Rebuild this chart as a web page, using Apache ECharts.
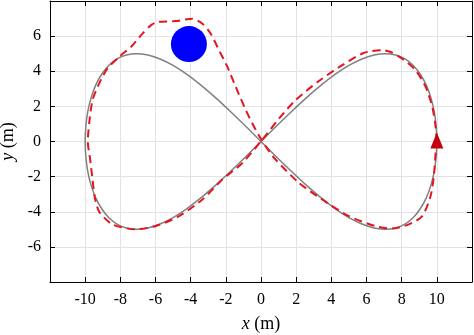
<!DOCTYPE html>
<html>
<head>
<meta charset="utf-8">
<script src="https://cdn.jsdelivr.net/npm/echarts@6/dist/echarts.min.js"></script>
<style>
html,body{margin:0;padding:0;background:#fff;}
#c{width:474px;height:335px;}
</style>
</head>
<body>
<div id="c"></div>
<script>
// Reference path (gray figure-eight)
var referencePath = [
  [10,0],[9.96,0.87],[9.85,1.71],[9.66,2.5],[9.40,3.21],[9.06,3.83],[8.66,4.33],[8.19,4.70],[7.66,4.92],[7.07,5],
  [6.43,4.92],[5.74,4.70],[5.00,4.33],[4.23,3.83],[3.42,3.21],[2.59,2.5],[1.74,1.71],[0.87,0.87],[0,0],
  [-0.87,-0.87],[-1.74,-1.71],[-2.59,-2.5],[-3.42,-3.21],[-4.23,-3.83],[-5,-4.33],[-5.74,-4.70],[-6.43,-4.92],[-7.07,-5],
  [-7.66,-4.92],[-8.19,-4.70],[-8.66,-4.33],[-9.06,-3.83],[-9.40,-3.21],[-9.66,-2.5],[-9.85,-1.71],[-9.96,-0.87],[-10,0],
  [-9.96,0.87],[-9.85,1.71],[-9.66,2.5],[-9.40,3.21],[-9.06,3.83],[-8.66,4.33],[-8.19,4.70],[-7.66,4.92],[-7.07,5],
  [-6.43,4.92],[-5.74,4.70],[-5,4.33],[-4.23,3.83],[-3.42,3.21],[-2.59,2.5],[-1.74,1.71],[-0.87,0.87],[0,0],
  [0.87,-0.87],[1.74,-1.71],[2.59,-2.5],[3.42,-3.21],[4.23,-3.83],[5,-4.33],[5.74,-4.70],[6.43,-4.92],[7.07,-5],
  [7.66,-4.92],[8.19,-4.70],[8.66,-4.33],[9.06,-3.83],[9.40,-3.21],[9.66,-2.5],[9.85,-1.71],[9.96,-0.87],[10,0]
];
// Actual trajectory (red dashed)
var trajectory = [
  [10,0],[9.93,0.85],[9.74,1.98],[9.36,3.12],[8.79,4.06],[8.03,4.72],[7.4,5.08],[6.89,5.2],[6.3,5.15],[5.76,5.01],[4.62,4.35],[3.3,3.45],
  [1.97,2.36],[1.02,1.3],[0.07,0.1],[-1.06,-1.22],[-2.2,-2.17],[-3.33,-3.3],[-4.66,-4.25],[-5.98,-4.81],[-7.12,-5.0],
  [-8.45,-4.72],[-9.2,-4.0],[-9.45,-3.2],[-9.6,-2.0],[-9.72,-1.0],[-9.85,0],[-9.77,1.04],[-9.58,2.36],[-9.2,3.31],
  [-8.73,4.16],[-8.07,4.82],[-7.4,5.38],[-6.74,6.14],[-6.27,6.61],[-5.89,6.8],[-4.85,6.86],[-3.9,6.99],[-3.33,6.71],
  [-2.86,6.14],[-2.39,5.2],[-1.91,4.25],[-1.44,3.12],[-0.87,1.8],[-0.3,0.66],[0.27,-0.28],[0.84,-1.04],[2.16,-2.36],
  [3.48,-3.3],[5.0,-4.25],[6.52,-4.82],[7.46,-4.96],[8.41,-4.72],[9.17,-4.25],[9.64,-3.12],[9.83,-1.98],[9.93,-0.66],[10,0]
];
var obstacle = [[-4.1, 5.55]];
var arrowPos = [[10, 0.05]];
var xTicks = [-10,-8,-6,-4,-2,0,2,4,6,8,10];
var yTicks = [-6,-4,-2,0,2,4,6];

var chart = echarts.init(document.getElementById('c'));
var font = 'Liberation Serif, DejaVu Serif, serif';
function fmtX(v){ return xTicks.indexOf(v) >= 0 ? String(v) : ''; }
function fmtY(v){ return yTicks.indexOf(v) >= 0 ? String(v) : ''; }
var commonSplit = {show:true, lineStyle:{color:'#e3e3e3', width:1}};
chart.setOption({
  animation:false,
  backgroundColor:'#fff',
  grid:{left:50, right:2, top:1, bottom:53, containLabel:false, outerBoundsMode:'none'},
  xAxis:[{
    type:'value', min:-12, max:12, interval:2, position:'bottom',
    axisLine:{show:true, onZero:false, lineStyle:{color:'#000', width:1}},
    axisTick:{show:true, inside:true, length:5, lineStyle:{color:'#000'}},
    axisLabel:{formatter:fmtX, color:'#000', fontFamily:font, fontSize:16, margin:10},
    splitLine:commonSplit,
    name:'{i|x} (m)', nameLocation:'middle', nameGap:33,
    nameTextStyle:{color:'#000', fontFamily:font, fontSize:18, rich:{i:{fontStyle:'italic', fontFamily:font, fontSize:18}}}
  },{
    type:'value', min:-12, max:12, interval:2, position:'top',
    axisLine:{show:true, onZero:false, lineStyle:{color:'#000', width:1}},
    axisTick:{show:true, inside:true, length:5, lineStyle:{color:'#000'}},
    axisLabel:{show:false}, splitLine:{show:false}
  }],
  yAxis:[{
    type:'value', min:-8, max:8, interval:2, position:'left',
    axisLine:{show:true, onZero:false, lineStyle:{color:'#000', width:1}},
    axisTick:{show:true, inside:true, length:5, lineStyle:{color:'#000'}},
    axisLabel:{formatter:fmtY, color:'#000', fontFamily:font, fontSize:16, margin:9},
    splitLine:commonSplit,
    name:'{i|y} (m)', nameLocation:'middle', nameGap:31, nameRotate:90,
    nameTextStyle:{color:'#000', fontFamily:font, fontSize:18, rich:{i:{fontStyle:'italic', fontFamily:font, fontSize:18}}}
  },{
    type:'value', min:-8, max:8, interval:2, position:'right',
    axisLine:{show:true, onZero:false, lineStyle:{color:'#000', width:1}},
    axisTick:{show:true, inside:true, length:5, lineStyle:{color:'#000'}},
    axisLabel:{show:false}, splitLine:{show:false}
  }],
  series:[{
    type:'line', data:referencePath, smooth:0.3, showSymbol:false, symbol:'none',
    lineStyle:{color:'#808080', width:1.5}, z:2
  },{
    type:'line', data:trajectory, smooth:0.25, showSymbol:false, symbol:'none',
    lineStyle:{color:'#e4151f', width:2, type:[8,5]}, z:3
  },{
    type:'scatter', data:obstacle, symbol:'circle', symbolSize:36,
    itemStyle:{color:'#0000ff', opacity:1}, z:4
  },{
    type:'scatter', data:arrowPos, symbol:'triangle', symbolSize:[13,16],
    itemStyle:{color:'#c4000c', opacity:1}, z:5
  }]
});
</script>
</body>
</html>
